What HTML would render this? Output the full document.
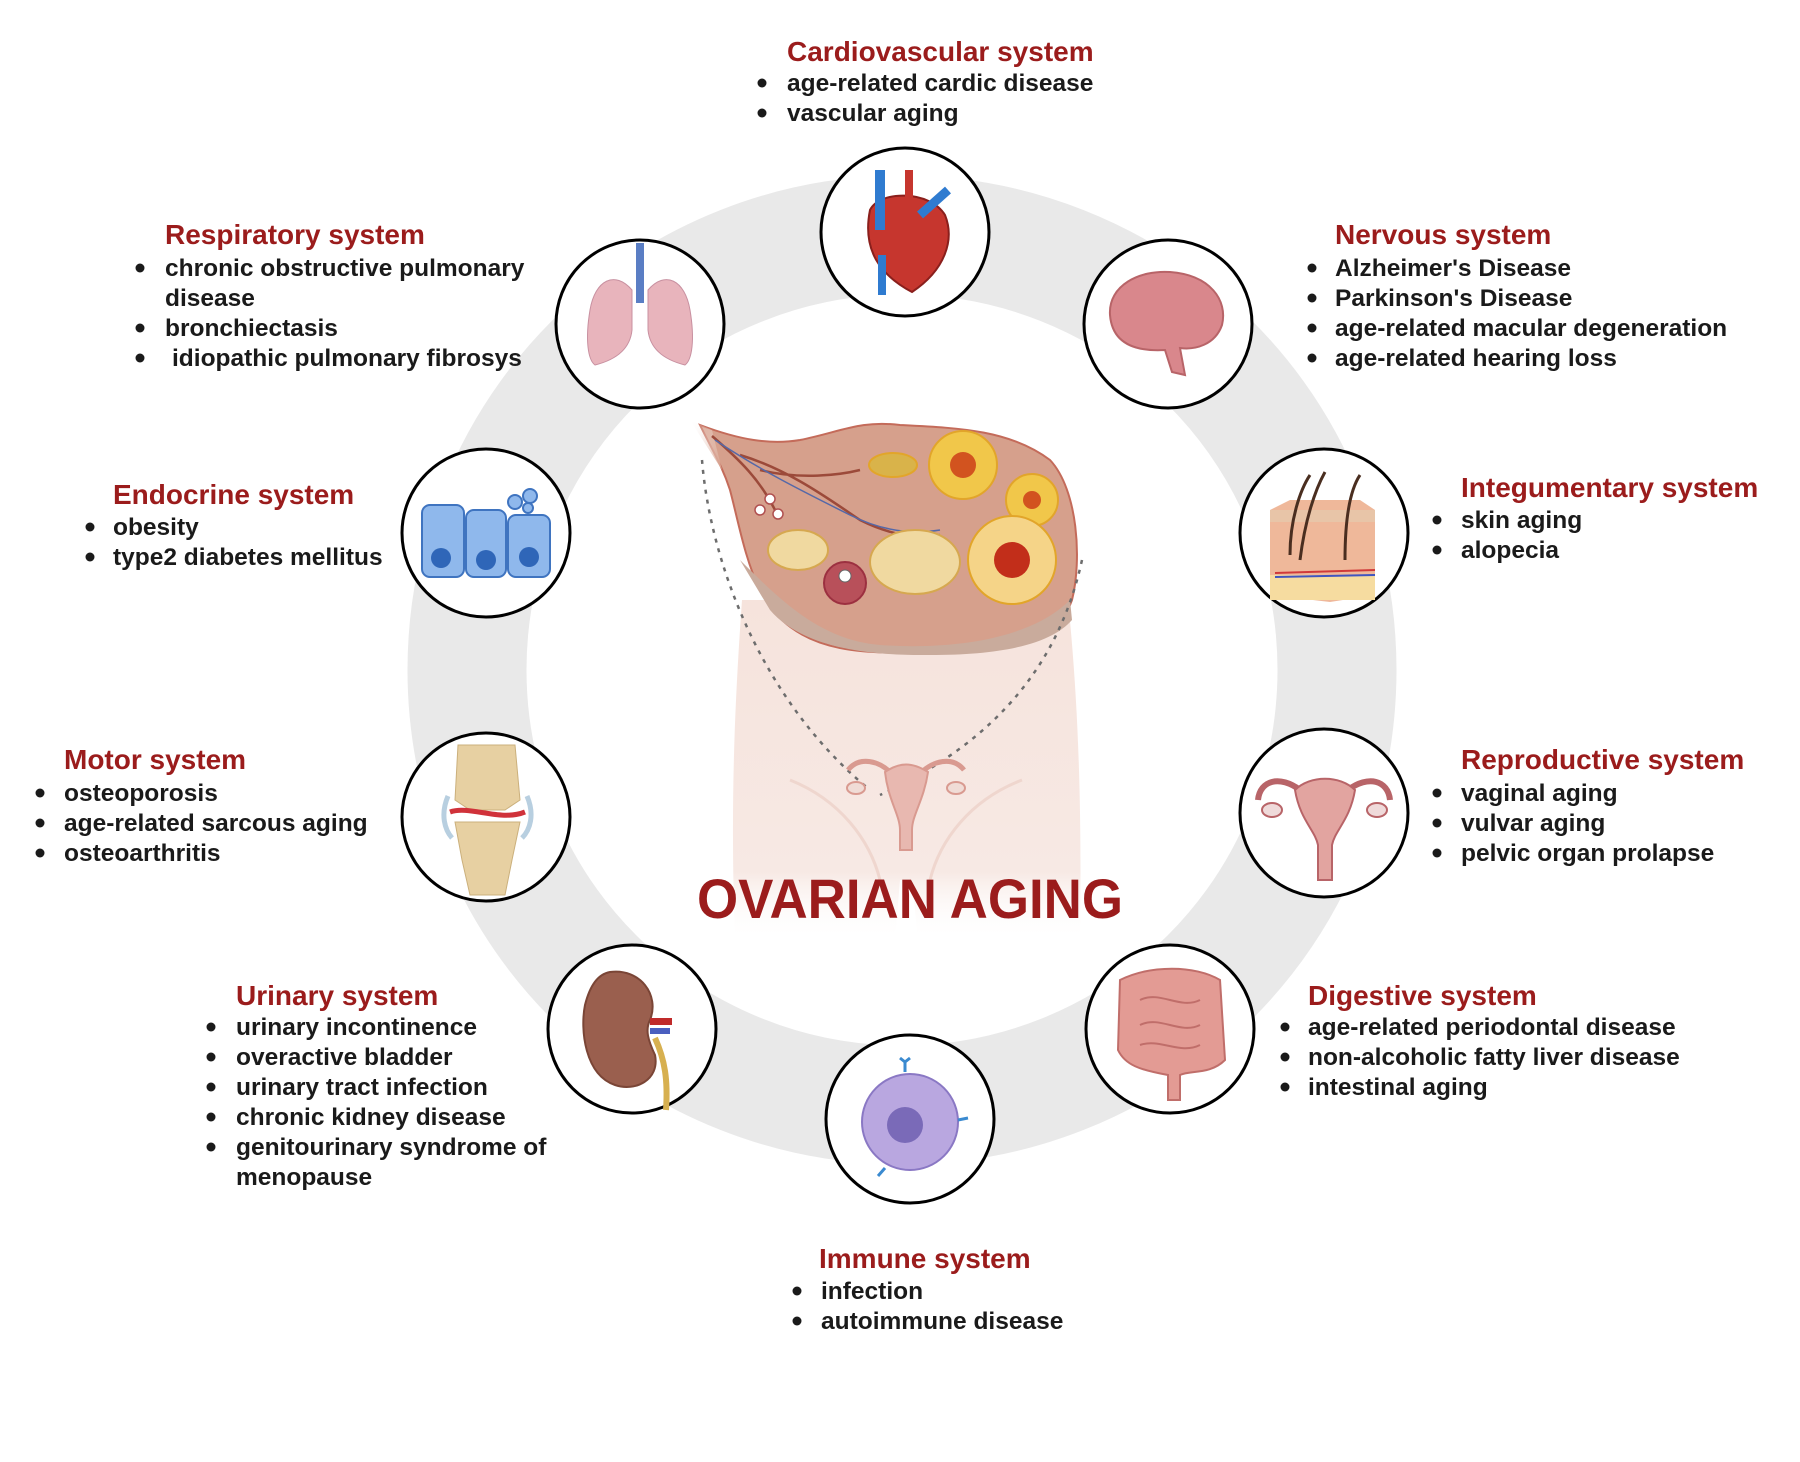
<!DOCTYPE html>
<html><head><meta charset="utf-8"><style>
html,body{margin:0;padding:0;background:#fff;}
svg{display:block;}
.t{font-family:"Liberation Sans",Arial,sans-serif;font-weight:bold;font-size:28px;fill:#9b1c1c;}
.b{font-family:"Liberation Sans",Arial,sans-serif;font-weight:bold;font-size:24.5px;fill:#1a1a1a;}
.ic{fill:#fff;stroke:#000;stroke-width:3;}
</style></head><body>
<svg width="1800" height="1462" viewBox="0 0 1800 1462" xmlns="http://www.w3.org/2000/svg">
<defs>
<linearGradient id="bodyfade" x1="0" y1="0" x2="0" y2="1">
<stop offset="0" stop-color="#f6e3dc"/><stop offset="0.8" stop-color="#f7e9e4"/><stop offset="1" stop-color="#fff" stop-opacity="0"/>
</linearGradient>
<linearGradient id="tail" x1="0" y1="0" x2="1" y2="1">
<stop offset="0" stop-color="#fff" stop-opacity="0"/><stop offset="1" stop-color="#d6a08c"/>
</linearGradient>
</defs>
<circle cx="902" cy="670" r="435" fill="none" stroke="#e9e9e9" stroke-width="119"/>

<path d="M742 600 C735 700 730 800 735 940 L895 940 L900 880 L912 880 L918 940 L1080 940 C1082 800 1078 700 1068 600 Z" fill="url(#bodyfade)"/>
<path d="M790 780 C840 800 870 840 880 880 M1022 780 C970 800 940 840 930 880" stroke="#efd6ce" stroke-width="3" fill="none"/>

<path d="M700 425 C740 440 770 445 800 440 C840 432 860 420 900 425 C960 428 1010 430 1050 460 C1078 490 1082 560 1072 600 C1060 635 1020 645 980 648 C930 652 880 656 840 648 C800 640 775 620 760 590 C745 560 738 520 730 490 C722 465 712 450 700 425 Z" fill="#d6a08c" stroke="#c46b5a" stroke-width="2"/>
<path d="M740 560 C780 600 820 640 880 645 C950 650 1030 640 1070 600 L1072 620 C1050 645 1000 655 930 655 C860 656 800 645 770 610 Z" fill="#c9ab9c"/>
<path d="M690 420 L712 430 L722 470 Z" fill="url(#tail)"/>
<path d="M712 436 C740 460 760 480 775 510 M740 455 C790 470 830 500 860 520 C890 535 920 540 940 535 M760 470 C800 480 840 475 860 470" stroke="#9c4a3a" stroke-width="2.5" fill="none"/>
<path d="M715 440 C760 470 800 490 850 515 C880 530 910 535 940 530" stroke="#5568a8" stroke-width="1.5" fill="none"/>
<g fill="#fff" stroke="#b05050" stroke-width="1.5"><circle cx="770" cy="499" r="5"/><circle cx="760" cy="510" r="5"/><circle cx="778" cy="514" r="5"/></g>
<g fill="#f1c74a" stroke="#e2a52a" stroke-width="2">
<ellipse cx="893" cy="465" rx="24" ry="12" fill="#d9b34a"/>
<circle cx="963" cy="465" r="34"/>
<circle cx="1032" cy="500" r="26"/>
<circle cx="1012" cy="560" r="44" fill="#f5d488"/>
</g>
<g fill="#f0d9a0" stroke="#d6a850" stroke-width="2">
<ellipse cx="798" cy="550" rx="30" ry="20"/>
<ellipse cx="915" cy="562" rx="45" ry="32"/>
</g>
<g fill="#d2531f"><circle cx="963" cy="465" r="13"/><circle cx="1032" cy="500" r="9"/><circle cx="1012" cy="560" r="18" fill="#c22e1a"/></g>
<circle cx="845" cy="583" r="21" fill="#b8505a" stroke="#9c3040" stroke-width="2"/>
<circle cx="845" cy="576" r="6" fill="#fff" stroke="#666"/>
<path d="M702 460 C710 560 760 700 870 790" stroke="#6d6d6d" stroke-width="2.5" stroke-dasharray="4 6" fill="none"/>
<path d="M1082 560 C1060 660 1000 740 880 795" stroke="#6d6d6d" stroke-width="2.5" stroke-dasharray="4 6" fill="none"/>
<g fill="#e8b8b0" stroke="#d99a90" stroke-width="2">
<path d="M848 770 C860 755 880 762 890 772 M964 770 C952 755 932 762 922 772" fill="none" stroke-width="5"/>
<path d="M885 772 C900 762 912 762 928 772 C924 800 912 815 912 830 L912 850 L900 850 L900 830 C900 815 888 800 885 772 Z"/>
<ellipse cx="856" cy="788" rx="9" ry="6" fill="#f0dcd6"/><ellipse cx="956" cy="788" rx="9" ry="6" fill="#f0dcd6"/>
</g>
<text x="910" y="918" text-anchor="middle" font-family="Liberation Sans,Arial,sans-serif" font-weight="bold" font-size="56" fill="#9b1c1c" textLength="426" lengthAdjust="spacingAndGlyphs">OVARIAN AGING</text>

<circle class="ic" cx="905" cy="232" r="84"/>
<circle class="ic" cx="640" cy="324" r="84"/>
<circle class="ic" cx="1168" cy="324" r="84"/>
<circle class="ic" cx="486" cy="533" r="84"/>
<circle class="ic" cx="1324" cy="533" r="84"/>
<circle class="ic" cx="486" cy="817" r="84"/>
<circle class="ic" cx="1324" cy="813" r="84"/>
<circle class="ic" cx="632" cy="1029" r="84"/>
<circle class="ic" cx="1170" cy="1029" r="84"/>
<circle class="ic" cx="910" cy="1119" r="84"/>

<path d="M870 210 C880 190 930 190 945 215 C955 240 945 270 912 292 C880 275 862 250 870 210 Z" fill="#c6362e" stroke="#8a1f1c" stroke-width="2"/>
<rect x="875" y="170" width="10" height="60" fill="#2f7bd0"/><rect x="905" y="170" width="8" height="30" fill="#c6362e"/>
<path d="M920 215 L948 190" stroke="#2f7bd0" stroke-width="9"/><rect x="878" y="255" width="8" height="40" fill="#2f7bd0"/>
<rect x="636" y="243" width="8" height="60" fill="#5a7ec4"/>
<path d="M632 290 C615 270 595 280 590 310 C585 340 588 360 595 365 C615 360 630 350 632 330 Z" fill="#e8b4bc" stroke="#c890a0"/>
<path d="M648 290 C665 270 685 280 690 310 C695 340 692 360 685 365 C665 360 650 350 648 330 Z" fill="#e8b4bc" stroke="#c890a0"/>
<path d="M1110 315 C1108 285 1140 270 1170 272 C1210 275 1228 300 1222 325 C1215 345 1195 350 1180 348 L1185 375 L1172 372 L1165 350 C1130 352 1112 340 1110 315 Z" fill="#d9878c" stroke="#b86468" stroke-width="2"/>
<g fill="#8fb8ec" stroke="#3f74c0" stroke-width="2">
<rect x="422" y="505" width="42" height="72" rx="8"/><rect x="466" y="510" width="40" height="67" rx="8"/><rect x="508" y="515" width="42" height="62" rx="8"/>
<circle cx="515" cy="502" r="7"/><circle cx="530" cy="496" r="7"/><circle cx="528" cy="508" r="5"/>
</g>
<g fill="#2f66b8"><circle cx="441" cy="558" r="10"/><circle cx="486" cy="560" r="10"/><circle cx="529" cy="557" r="10"/></g>
<path d="M1270 510 L1290 500 L1360 500 L1375 510 L1375 595 L1330 602 L1270 595 Z" fill="#efb89a"/>
<rect x="1270" y="510" width="105" height="12" fill="#e8c5a8"/>
<rect x="1270" y="575" width="105" height="25" fill="#f6dca0"/>
<path d="M1275 573 L1375 570" stroke="#d03a3a" stroke-width="2"/><path d="M1275 577 L1375 575" stroke="#4055c0" stroke-width="2"/>
<g stroke="#4a2e20" stroke-width="3" fill="none"><path d="M1290 555 C1290 520 1300 490 1310 475"/><path d="M1300 560 C1305 520 1315 490 1325 472"/><path d="M1345 560 C1345 520 1350 490 1360 475"/></g>
<path d="M458 745 L515 745 L520 800 L505 810 L470 810 L455 800 Z" fill="#e7d0a2" stroke="#cbb07c"/>
<path d="M455 822 L520 822 L512 860 L505 895 L470 895 L462 860 Z" fill="#e7d0a2" stroke="#cbb07c"/>
<path d="M450 812 C470 805 500 822 525 812" stroke="#d0323a" stroke-width="5" fill="none"/>
<path d="M448 796 C440 815 445 830 452 838 M527 796 C535 815 530 830 522 838" stroke="#b8cfe0" stroke-width="5" fill="none"/>
<g fill="#e2a4a0" stroke="#b86468" stroke-width="2">
<path d="M1300 790 C1280 775 1260 780 1258 800 M1348 790 C1368 775 1388 780 1390 800" fill="none" stroke-width="6"/>
<path d="M1295 790 C1310 775 1340 775 1355 790 C1350 820 1335 830 1332 845 L1332 880 L1318 880 L1318 845 C1315 830 1300 820 1295 790 Z"/>
<ellipse cx="1272" cy="810" rx="10" ry="7" fill="#efdada"/><ellipse cx="1377" cy="810" rx="10" ry="7" fill="#efdada"/>
</g>
<path d="M610 972 C640 968 660 995 650 1020 C645 1030 648 1040 655 1055 C660 1080 635 1092 615 1085 C585 1075 580 1030 585 1005 C590 985 598 974 610 972 Z" fill="#9a5f4e" stroke="#7a4536" stroke-width="2"/>
<rect x="650" y="1018" width="22" height="7" fill="#c02a2a"/><rect x="650" y="1028" width="20" height="6" fill="#4a5fbf"/>
<path d="M655 1038 C665 1060 668 1080 666 1110" stroke="#d7b050" stroke-width="6" fill="none"/>
<path d="M1120 980 C1150 965 1195 965 1220 980 L1225 1060 C1210 1075 1190 1070 1180 1075 L1180 1100 L1168 1100 L1168 1075 C1140 1070 1125 1065 1118 1050 Z" fill="#e39b94" stroke="#c06e6a" stroke-width="2"/>
<path d="M1140 1000 C1160 990 1180 1010 1200 1000 M1140 1025 C1160 1015 1180 1035 1200 1025 M1140 1045 C1160 1038 1180 1055 1200 1045" stroke="#c06e6a" stroke-width="2" fill="none"/>
<circle cx="910" cy="1122" r="48" fill="#b9a7e0" stroke="#8a78c4" stroke-width="2"/>
<circle cx="905" cy="1125" r="18" fill="#7a6ab8"/>
<g stroke="#3a8ad0" stroke-width="3" fill="none"><path d="M905 1072 L905 1062 M900 1058 L905 1062 L910 1058"/><path d="M958 1120 L968 1118"/><path d="M885 1168 L878 1176"/></g>

<g>
<text class="t" x="787" y="61">Cardiovascular system</text>
<circle cx="762" cy="83" r="4.5" fill="#1a1a1a"/><text class="b" x="787" y="91">age-related cardic disease</text>
<circle cx="762" cy="113" r="4.5" fill="#1a1a1a"/><text class="b" x="787" y="121">vascular aging</text>

<text class="t" x="165" y="244">Respiratory system</text>
<circle cx="140" cy="268" r="4.5" fill="#1a1a1a"/><text class="b" x="165" y="276">chronic obstructive pulmonary</text>
<text class="b" x="165" y="306">disease</text>
<circle cx="140" cy="328" r="4.5" fill="#1a1a1a"/><text class="b" x="165" y="336">bronchiectasis</text>
<circle cx="140" cy="358" r="4.5" fill="#1a1a1a"/><text class="b" x="172" y="366">idiopathic pulmonary fibrosys</text>

<text class="t" x="1335" y="244">Nervous system</text>
<circle cx="1312" cy="268" r="4.5" fill="#1a1a1a"/><text class="b" x="1335" y="276">Alzheimer's Disease</text>
<circle cx="1312" cy="298" r="4.5" fill="#1a1a1a"/><text class="b" x="1335" y="306">Parkinson's Disease</text>
<circle cx="1312" cy="328" r="4.5" fill="#1a1a1a"/><text class="b" x="1335" y="336">age-related macular degeneration</text>
<circle cx="1312" cy="358" r="4.5" fill="#1a1a1a"/><text class="b" x="1335" y="366">age-related hearing loss</text>

<text class="t" x="1461" y="497">Integumentary system</text>
<circle cx="1437" cy="520" r="4.5" fill="#1a1a1a"/><text class="b" x="1461" y="528">skin aging</text>
<circle cx="1437" cy="550" r="4.5" fill="#1a1a1a"/><text class="b" x="1461" y="558">alopecia</text>

<text class="t" x="113" y="504">Endocrine system</text>
<circle cx="90" cy="527" r="4.5" fill="#1a1a1a"/><text class="b" x="113" y="535">obesity</text>
<circle cx="90" cy="557" r="4.5" fill="#1a1a1a"/><text class="b" x="113" y="565">type2 diabetes mellitus</text>

<text class="t" x="64" y="769">Motor system</text>
<circle cx="40" cy="793" r="4.5" fill="#1a1a1a"/><text class="b" x="64" y="801">osteoporosis</text>
<circle cx="40" cy="823" r="4.5" fill="#1a1a1a"/><text class="b" x="64" y="831">age-related sarcous aging</text>
<circle cx="40" cy="853" r="4.5" fill="#1a1a1a"/><text class="b" x="64" y="861">osteoarthritis</text>

<text class="t" x="1461" y="769">Reproductive system</text>
<circle cx="1437" cy="793" r="4.5" fill="#1a1a1a"/><text class="b" x="1461" y="801">vaginal aging</text>
<circle cx="1437" cy="823" r="4.5" fill="#1a1a1a"/><text class="b" x="1461" y="831">vulvar aging</text>
<circle cx="1437" cy="853" r="4.5" fill="#1a1a1a"/><text class="b" x="1461" y="861">pelvic organ prolapse</text>

<text class="t" x="236" y="1005">Urinary system</text>
<circle cx="211" cy="1027" r="4.5" fill="#1a1a1a"/><text class="b" x="236" y="1035">urinary incontinence</text>
<circle cx="211" cy="1057" r="4.5" fill="#1a1a1a"/><text class="b" x="236" y="1065">overactive bladder</text>
<circle cx="211" cy="1087" r="4.5" fill="#1a1a1a"/><text class="b" x="236" y="1095">urinary tract infection</text>
<circle cx="211" cy="1117" r="4.5" fill="#1a1a1a"/><text class="b" x="236" y="1125">chronic kidney disease</text>
<circle cx="211" cy="1147" r="4.5" fill="#1a1a1a"/><text class="b" x="236" y="1155">genitourinary syndrome of</text>
<text class="b" x="236" y="1185">menopause</text>

<text class="t" x="1308" y="1005">Digestive system</text>
<circle cx="1285" cy="1027" r="4.5" fill="#1a1a1a"/><text class="b" x="1308" y="1035">age-related periodontal disease</text>
<circle cx="1285" cy="1057" r="4.5" fill="#1a1a1a"/><text class="b" x="1308" y="1065">non-alcoholic fatty liver disease</text>
<circle cx="1285" cy="1087" r="4.5" fill="#1a1a1a"/><text class="b" x="1308" y="1095">intestinal aging</text>

<text class="t" x="819" y="1268">Immune system</text>
<circle cx="797" cy="1291" r="4.5" fill="#1a1a1a"/><text class="b" x="821" y="1299">infection</text>
<circle cx="797" cy="1321" r="4.5" fill="#1a1a1a"/><text class="b" x="821" y="1329">autoimmune disease</text>
</g>
</svg>
</body></html>
